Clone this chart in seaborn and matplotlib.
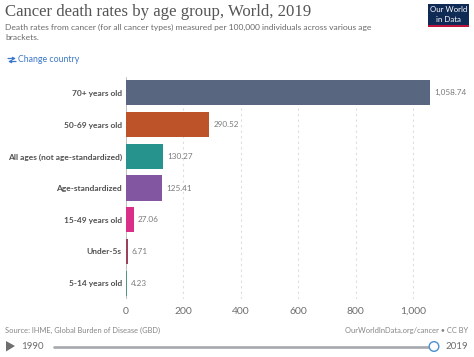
import matplotlib
matplotlib.use("Agg")
import matplotlib.pyplot as plt
import seaborn as sns
import pandas as pd
from matplotlib.patches import Rectangle, Circle, Polygon
from matplotlib.lines import Line2D

groups = ["70+ years old", "50-69 years old", "All ages (not age-standardized)",
          "Age-standardized", "15-49 years old", "Under-5s", "5-14 years old"]
rates = [1058.74, 290.52, 130.27, 125.41, 27.06, 6.71, 4.23]
value_labels = ["1,058.74", "290.52", "130.27", "125.41", "27.06", "6.71", "4.23"]
colors = ["#58667f", "#bd5329", "#26948c", "#8256a1", "#d92f87", "#9a4257", "#4f9a7b"]
x_ticks = [0, 200, 400, 600, 800, 1000]
x_tick_labels = ["0", "200", "400", "600", "800", "1,000"]

W, H = 474, 357
sns.set_theme(style="white")
plt.rcParams["font.family"] = ["Lato", "DejaVu Sans"]
fig = plt.figure(figsize=(W / 100, H / 100), dpi=100, facecolor="white")

def fx(p): return p / W
def fy(p): return 1 - p / H

ax = fig.add_axes([fx(126), fy(299), fx(430) - fx(126), fy(77) - fy(299)])
df = pd.DataFrame({"group": groups, "rate": rates})
sns.barplot(data=df, y="group", x="rate", hue="group", palette=colors, legend=False,
            width=0.79, dodge=False, saturation=1, ax=ax, edgecolor="none", zorder=3)
ax.set_xlim(0, rates[0])
ax.set_ylim(6.5, -0.5)
ax.set_xlabel("")
ax.set_ylabel("")
sns.despine(ax=ax, left=True, bottom=True, top=True, right=True)
ax.set_xticks(x_ticks)
ax.set_xticklabels(x_tick_labels, fontsize=7.5, color="#6e6e6e")
ax.tick_params(axis="x", length=0, pad=5.5)
ax.tick_params(axis="y", length=0, pad=3)
for lab in ax.get_yticklabels():
    lab.set_fontsize(6.0)
    lab.set_fontweight("bold")
    lab.set_color("#505050")
ax.xaxis.grid(True, color="#dddddd", linestyle=(0, (2, 3)), linewidth=0.8, zorder=0)
ax.axvline(0, color="#c0c0c0", linewidth=0.7, zorder=2)
ax.set_axisbelow(True)
for i, (v, t) in enumerate(zip(rates, value_labels)):
    ax.annotate(t, xy=(v, i), xytext=(2.8, 0), textcoords="offset points", va="center",
                ha="left", fontsize=5.9, color="#7a7a7a", annotation_clip=False)

ov = fig.add_axes([0, 0, 1, 1], facecolor="none")
ov.set_xlim(0, W)
ov.set_ylim(H, 0)
ov.axis("off")
ov.text(5, 12, "Cancer death rates by age group, World, 2019", family=["Liberation Serif", "DejaVu Serif"],
        fontsize=12.05, color="#555555", va="center", ha="left")
ov.text(5, 27.5, "Death rates from cancer (for all cancer types) measured per 100,000 individuals across various age",
        fontsize=6.1, color="#6a6a6a", va="center", ha="left")
ov.text(5, 38, "brackets.", fontsize=6.1, color="#6a6a6a", va="center", ha="left")
ov.text(18.5, 60, "Change country", fontsize=6.3, color="#3b78c8", va="center", ha="left")
ov.add_patch(Rectangle((428, 4), 41, 23, color="#0f2a55", lw=0))
ov.add_patch(Rectangle((428, 25), 41, 2, color="#c0143c", lw=0))
ov.text(448.5, 10, "Our World", fontsize=5.7, color="white", va="center", ha="center")
ov.text(448.5, 19, "in Data", fontsize=5.7, color="white", va="center", ha="center")
ov.annotate("", xy=(16, 58.5), xytext=(8, 58.5), arrowprops=dict(arrowstyle="-|>", color="#3b78c8", lw=0.9, mutation_scale=4, shrinkA=0, shrinkB=0))
ov.annotate("", xy=(8, 61.5), xytext=(16, 61.5), arrowprops=dict(arrowstyle="-|>", color="#3b78c8", lw=0.9, mutation_scale=4, shrinkA=0, shrinkB=0))
ov.text(5, 330.5, "Source: IHME, Global Burden of Disease (GBD)", fontsize=5.4, color="#858585", va="center", ha="left")
ov.text(468.5, 330.5, "OurWorldInData.org/cancer • CC BY", fontsize=5.45, color="#858585", va="center", ha="right")
ov.add_patch(Polygon([(6, 341), (6, 351.5), (15, 346)], color="#6e6e6e", lw=0))
ov.text(21, 346.5, "1990", fontsize=7, color="#6e6e6e", va="center", ha="left")
ov.add_line(Line2D([54, 434], [346.5, 346.5], color="#a5a8ad", lw=1.9, solid_capstyle="round"))
ov.add_patch(Circle((434, 346.5), 4.8, facecolor="white", edgecolor="#4a90d0", lw=1.0, zorder=5))
ov.text(445.5, 346.5, "2019", fontsize=7, color="#6e6e6e", va="center", ha="left")

fig.savefig("out.png", dpi=100)
